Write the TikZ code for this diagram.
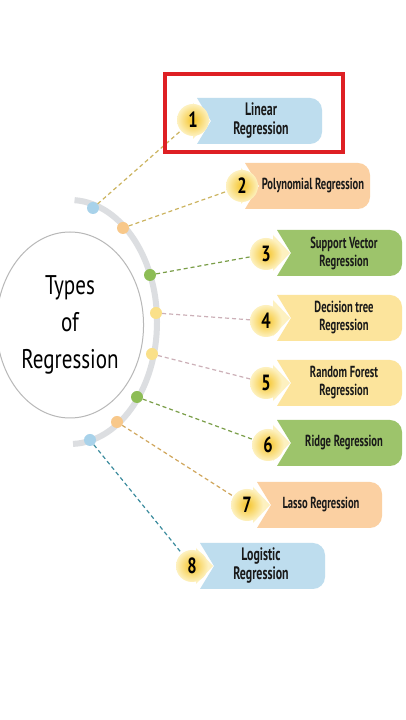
\documentclass[tikz,border=0pt]{standalone}
\usepackage{fontspec}
\usepackage{xcolor}
\usepackage{tikz}
\usetikzlibrary{shapes.geometric, positioning}
\newfontfamily\boxfont[FakeStretch=0.66]{PT Sans}
\newfontfamily\numfont[FakeStretch=0.75]{PT Sans}
\newfontfamily\titlefont[FakeStretch=0.78]{PT Sans}
\definecolor{boxblue}{RGB}{190, 221, 238}
\definecolor{boxorange}{RGB}{251, 208, 162}
\definecolor{boxgreen}{RGB}{157, 196, 107}
\definecolor{boxyellow}{RGB}{252, 228, 156}
\definecolor{dotblue}{RGB}{168, 210, 234}
\definecolor{dotorange}{RGB}{248, 200, 138}
\definecolor{dotgreen}{RGB}{141, 189, 85}
\definecolor{dotyellow}{RGB}{250, 224, 137}
\definecolor{linekhaki}{RGB}{204, 180, 96}
\definecolor{linegreen}{RGB}{122, 158, 72}
\definecolor{linepink}{RGB}{204, 176, 184}
\definecolor{lineochre}{RGB}{208, 166, 92}
\definecolor{lineteal}{RGB}{60, 140, 158}
\definecolor{badgegold}{RGB}{245, 196, 40}
\definecolor{badgepale}{RGB}{253, 241, 192}
\definecolor{arcgray}{RGB}{220, 222, 225}
\definecolor{framered}{RGB}{222, 32, 36}

\begin{document}
\begin{tikzpicture}[x=1pt, y=1pt,
  boxshape/.style={insert path={(0,23) -- (113,23) arc[start angle=90, end angle=0, radius=12]
    -- (125,-11) arc[start angle=0, end angle=-90, radius=12] -- (0,-23) -- (14,0) -- cycle}},
  boxtext/.style={align=center, text=black!90, font=\boxfont\bfseries\fontsize{16}{18}\selectfont},
  boxbig/.style={boxtext, font=\boxfont\bfseries\fontsize{18}{19}\selectfont},
  badge/.style={circle, minimum size=32pt, inner sep=0pt, inner color=badgegold, outer color=badgepale,
    font=\numfont\bfseries\fontsize{22}{22}\selectfont},
  notch/.style={fill=badgepale},
  dot/.style={circle, minimum size=12pt, inner sep=0pt},
  link/.style={line width=1.2pt, dash pattern=on 4pt off 3pt}]
\fill[white] (0,0) rectangle (406,720);
\useasboundingbox (0,0) rectangle (406,720);

% hub
\draw[arcgray, line width=6pt] (70,398) ++(87:87 and 122) arc[start angle=87, end angle=-88, x radius=87, y radius=122];
\node[draw=black!28, line width=1pt, fill=white, ellipse, minimum width=133pt, minimum height=186pt,
  align=center, font=\titlefont\fontsize{27}{37}\selectfont] (hub) at (70,395) {Types\\of\\Regression};

% dots on the arc
\node[dot, fill=dotblue] (d1) at (93,512) {};
\node[dot, fill=dotorange] (d2) at (123,492) {};
\node[dot, fill=dotgreen] (d3) at (150,445) {};
\node[dot, fill=dotyellow] (d4) at (156,407) {};
\node[dot, fill=dotyellow] (d5) at (152,366) {};
\node[dot, fill=dotgreen] (d6) at (137,323) {};
\node[dot, fill=dotorange] (d7) at (117,298) {};
\node[dot, fill=dotblue] (d8) at (90,280) {};

% 1
\begin{scope}[shift={(197,599)}]
\fill[boxblue, boxshape];
\fill[notch] (-4,18) -- (13,0) -- (-4,-18) -- cycle;
\node[boxbig] (r1) at (64,0) {Linear\\Regression};
\node[badge] (b1) at (-4,1) {1};
\end{scope}
% 2
\begin{scope}[shift={(245,534)}]
\fill[boxorange, boxshape];
\fill[notch] (-4,18) -- (13,0) -- (-4,-18) -- cycle;
\node[boxtext] (r2) at (68,0) {Polynomial Regression};
\node[badge] (b2) at (-3,0) {2};
\end{scope}
% 3
\begin{scope}[shift={(277,467)}]
\fill[boxgreen, boxshape];
\fill[notch] (-4,18) -- (13,0) -- (-4,-18) -- cycle;
\node[boxtext] (r3) at (67,0) {Support Vector\\Regression};
\node[badge] (b3) at (-11,-1) {3};
\end{scope}
% 4
\begin{scope}[shift={(277,402)}]
\fill[boxyellow, boxshape];
\fill[notch] (-4,18) -- (13,0) -- (-4,-18) -- cycle;
\node[boxtext] (r4) at (67,0) {Decision tree\\Regression};
\node[badge] (b4) at (-11,-3) {4};
\end{scope}
% 5
\begin{scope}[shift={(277,337)}]
\fill[boxyellow, boxshape];
\fill[notch] (-4,18) -- (13,0) -- (-4,-18) -- cycle;
\node[boxtext] (r5) at (67,0) {Random Forest\\Regression};
\node[badge] (b5) at (-11,0) {5};
\end{scope}
% 6
\begin{scope}[shift={(277,277)}]
\fill[boxgreen, boxshape];
\fill[notch] (-4,18) -- (13,0) -- (-4,-18) -- cycle;
\node[boxtext] (r6) at (67,0) {Ridge Regression};
\node[badge] (b6) at (-9,-2) {6};
\end{scope}
% 7
\begin{scope}[shift={(257,215)}]
\fill[boxorange, boxshape];
\fill[notch] (-4,18) -- (13,0) -- (-4,-18) -- cycle;
\node[boxtext] (r7) at (64,0) {Lasso Regression};
\node[badge] (b7) at (-10,0) {7};
\end{scope}
% 8
\begin{scope}[shift={(200,154)}]
\fill[boxblue, boxshape];
\fill[notch] (-4,18) -- (13,0) -- (-4,-18) -- cycle;
\node[boxbig] (r8) at (61,0) {Logistic\\Regression};
\node[badge] (b8) at (-8,0) {8};
\end{scope}

% links
\draw[link, linekhaki] (d1) -- (b1);
\draw[link, linekhaki] (d2) -- (b2);
\draw[link, linegreen] (d3) -- (b3);
\draw[link, linepink] (d4) -- (b4);
\draw[link, linepink] (d5) -- (b5);
\draw[link, linegreen] (d6) -- (b6);
\draw[link, lineochre] (d7) -- (b7);
\draw[link, lineteal] (d8) -- (b8);

% highlight
\draw[framered, line width=4pt] (165,568) rectangle (343,646);
\end{tikzpicture}
\end{document}
